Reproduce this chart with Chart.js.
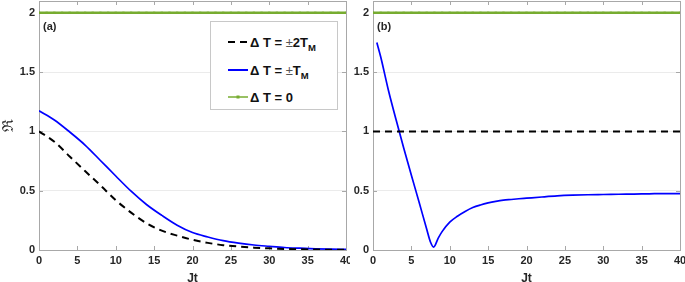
<!DOCTYPE html>
<html>
<head>
<meta charset="utf-8">
<script src="https://cdn.jsdelivr.net/npm/chart.js@4.4.1/dist/chart.umd.min.js"></script>
<style>
    body { margin: 0; background: #fff; width: 685px; height: 282px; position: relative; overflow: hidden; font-family: "Liberation Sans", Arial, sans-serif; }
    .panel { position: absolute; top: -3px; height: 285px; }
    #wrapA { left: 0; width: 350px; }
    #wrapB { left: 350px; width: 335px; }
    .tag { position: absolute; top: 20px; font-weight: bold; font-size: 11px; line-height: 13px; color: #262626; }
    #legend { position: absolute; left: 210px; top: 21px; width: 126px; height: 87px; border: 1px solid #c8c8c8; background: #fff; }
    .row { position: absolute; left: 17px; height: 16px; display: flex; align-items: center; font-weight: bold; font-size: 13px; color: #111; white-space: nowrap; }
    .row svg { margin-right: 2px; }
    .row sub { font-size: 9.5px; vertical-align: -4px; line-height: 0; }
    .pm { font-weight: normal; color: #555; }
</style>
</head>
<body>
<div class="panel" id="wrapA"><canvas id="panel_a"></canvas></div>
<div class="panel" id="wrapB"><canvas id="panel_b"></canvas></div>
<div class="tag" style="left:43px">(a)</div>
<div class="tag" style="left:377px">(b)</div>
<div id="legend">
    <div class="row" style="top:12px"><svg width="20" height="6"><line x1="0" y1="3" x2="20" y2="3" stroke="#000" stroke-width="2" stroke-dasharray="7,5"/></svg><span>&Delta; T = <span class="pm">&plusmn;</span>2T<sub>M</sub></span></div>
    <div class="row" style="top:40px"><svg width="20" height="6"><line x1="0" y1="3" x2="20" y2="3" stroke="#0000ff" stroke-width="2"/></svg><span>&Delta; T = <span class="pm">&plusmn;</span>T<sub>M</sub></span></div>
    <div class="row" style="top:67px"><svg width="20" height="6"><line x1="0" y1="3" x2="20" y2="3" stroke="#77ac30" stroke-width="1.5"/><rect x="8.5" y="1.5" width="3" height="3" fill="#77ac30"/></svg><span>&Delta; T = 0</span></div>
</div>
<script>
// panel (a): decay curves
var jtA = [0, 2, 4, 6, 8, 10, 12, 14, 16, 18, 20, 22, 24, 26, 28, 30, 32, 34, 36, 38, 40];
var twoTmA = [1.00, 0.913, 0.789, 0.666, 0.545, 0.42, 0.315, 0.226, 0.163, 0.121, 0.086, 0.06, 0.041, 0.029, 0.02, 0.014, 0.009, 0.006, 0.004, 0.002, 0.001];
var oneTmA = [1.174, 1.096, 0.995, 0.885, 0.755, 0.624, 0.496, 0.384, 0.292, 0.209, 0.147, 0.11, 0.079, 0.058, 0.042, 0.031, 0.021, 0.015, 0.01, 0.007, 0.005];

// panel (b)
var jtB = [0.5, 1, 2, 3, 4, 5, 6, 7, 7.5, 7.9, 8.5, 9, 10, 11, 12, 13, 14, 15, 16, 17, 18, 19, 20, 22, 24, 26, 28, 30, 32, 34, 36, 38, 40];
var oneTmB = [1.75, 1.63, 1.35, 1.10, 0.86, 0.63, 0.405, 0.175, 0.065, 0.025, 0.10, 0.155, 0.235, 0.285, 0.325, 0.358, 0.38, 0.397, 0.41, 0.42, 0.426, 0.432, 0.437, 0.447, 0.456, 0.462, 0.466, 0.468, 0.47, 0.472, 0.474, 0.476, 0.476];
var jtFlat = [0, 40];
var twoTmB = [1, 1];

// Delta T = 0 in both panels
var jtZero = [0, 1, 2, 3, 4, 5, 6, 7, 8, 9, 10, 11, 12, 13, 14, 15, 16, 17, 18, 19, 20, 21, 22, 23, 24, 25, 26, 27, 28, 29, 30, 31, 32, 33, 34, 35, 36, 37, 38, 39, 40];
var zeroDT = [2, 2, 2, 2, 2, 2, 2, 2, 2, 2, 2, 2, 2, 2, 2, 2, 2, 2, 2, 2, 2, 2, 2, 2, 2, 2, 2, 2, 2, 2, 2, 2, 2, 2, 2, 2, 2, 2, 2, 2, 2];

var xTicks = [0, 5, 10, 15, 20, 25, 30, 35, 40];
var yTicks = [0, 0.5, 1, 1.5, 2];

function pts(xs, ys) {
    return xs.map((x, i) => ({ x: x, y: ys[i] }));
}

var axisColor = '#a8a8a8';
var textColor = '#262626';

// box round the axes with inward tick marks, like the original figure
var framePlugin = {
    id: 'frame',
    beforeDatasetsDraw(chart) {
        var ctx = chart.ctx;
        var a = chart.chartArea;
        var xs = chart.scales.x, ys = chart.scales.y;
        ctx.save();
        ctx.strokeStyle = axisColor;
        ctx.lineWidth = 1;
        ctx.beginPath();
        xTicks.forEach(v => {
            var px = Math.round(xs.getPixelForValue(v)) + 0.5;
            ctx.moveTo(px, a.bottom); ctx.lineTo(px, a.bottom - 4);
            ctx.moveTo(px, a.top); ctx.lineTo(px, a.top + 4);
        });
        yTicks.forEach(v => {
            var py = Math.round(ys.getPixelForValue(v)) + 0.5;
            ctx.moveTo(a.left, py); ctx.lineTo(a.left + 4, py);
            ctx.moveTo(a.right, py); ctx.lineTo(a.right - 4, py);
        });
        ctx.stroke();
        ctx.strokeRect(Math.round(a.left) + 0.5, Math.round(a.top) + 0.5, Math.round(a.right - a.left), Math.round(a.bottom - a.top));
        ctx.restore();
    }
};

function makeOptions(yWidth, padRight, showTitle) {
    return {
        responsive: false,
        animation: false,
        layout: { padding: { left: 0, right: padRight, top: 1, bottom: 0 } },
        plugins: { legend: { display: false }, tooltip: { enabled: false } },
        elements: { line: { tension: 0 } },
        scales: {
            x: {
                type: 'linear',
                min: 0,
                max: 40,
                afterBuildTicks: s => { s.ticks = xTicks.map(v => ({ value: v })); },
                afterFit: s => { s.height = 32; s.paddingLeft = 0; s.paddingRight = 0; },
                grid: { display: false, drawTicks: false },
                border: { display: false },
                ticks: { padding: 4, color: textColor, font: { family: 'Liberation Sans', size: 11, weight: 'bold' }, maxRotation: 0, callback: v => String(v) },
                title: { display: true, text: 'Jt', color: textColor, padding: { top: 0, bottom: -4 }, font: { family: 'Liberation Sans', size: 12, weight: 'bold' } }
            },
            y: {
                min: 0,
                max: 2.1,
                afterBuildTicks: s => { s.ticks = yTicks.map(v => ({ value: v })); },
                afterFit: s => { s.width = yWidth; s.paddingTop = 0; s.paddingBottom = 0; },
                grid: { color: '#ebebeb', drawTicks: false },
                border: { display: false },
                ticks: { padding: 4, color: textColor, font: { family: 'Liberation Sans', size: 11, weight: 'bold' }, callback: v => String(v) },
                title: { display: showTitle, text: '\u211C', color: textColor, padding: { top: 0, bottom: 2 }, font: { family: 'DejaVu Serif', size: 15 } }
            }
        }
    };
}

var greenSet = {
    label: '\u0394 T = 0',
    data: pts(jtZero, zeroDT),
    borderColor: '#77ac30',
    backgroundColor: '#77ac30',
    borderWidth: 2.5,
    pointStyle: 'rect',
    pointRadius: 1.6,
    pointBorderWidth: 0
};

var ca = document.getElementById('panel_a');
ca.width = 350; ca.height = 285;
new Chart(ca, {
    type: 'line',
    data: {
        datasets: [
            { label: '\u0394 T = \u00b12T_M', data: pts(jtA, twoTmA), borderColor: '#000', borderWidth: 2, borderDash: [7, 5], pointRadius: 0, cubicInterpolationMode: 'monotone' },
            { label: '\u0394 T = \u00b1T_M', data: pts(jtA, oneTmA), borderColor: '#0000ff', borderWidth: 1.7, pointRadius: 0, cubicInterpolationMode: 'monotone' },
            Object.assign({}, greenSet)
        ]
    },
    options: makeOptions(39, 4, true),
    plugins: [framePlugin]
});

var cb = document.getElementById('panel_b');
cb.width = 335; cb.height = 285;
new Chart(cb, {
    type: 'line',
    data: {
        datasets: [
            { label: '\u0394 T = \u00b12T_M', data: pts(jtFlat, twoTmB), borderColor: '#000', borderWidth: 2, borderDash: [7, 5], pointRadius: 0 },
            { label: '\u0394 T = \u00b1T_M', data: pts(jtB, oneTmB), borderColor: '#0000ff', borderWidth: 1.7, pointRadius: 0, cubicInterpolationMode: 'monotone' },
            Object.assign({}, greenSet, { data: pts(jtZero, zeroDT) })
        ]
    },
    options: makeOptions(23, 5, false),
    plugins: [framePlugin]
});
</script>
</body>
</html>
